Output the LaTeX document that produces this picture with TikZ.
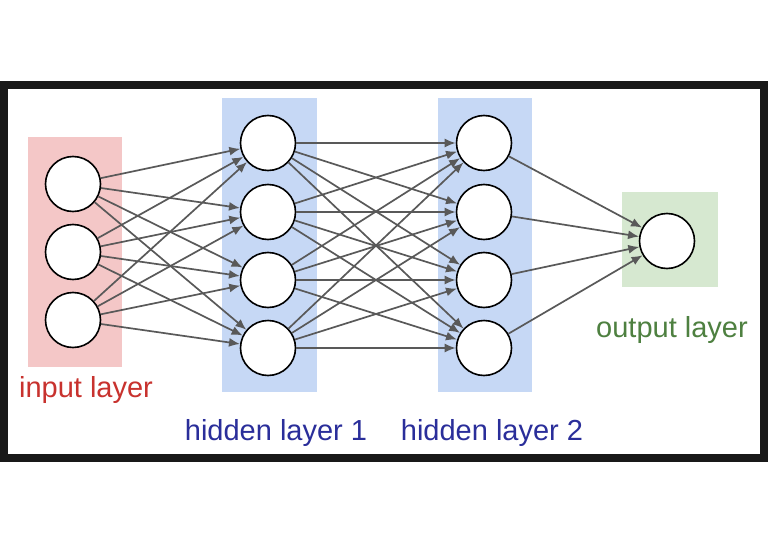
\documentclass[tikz,border=0pt]{standalone}
\usepackage{fontspec}
\setmainfont{Liberation Sans}
\usetikzlibrary{arrows.meta}
\definecolor{pinkbg}{HTML}{F4C7C7}
\definecolor{bluebg}{HTML}{C6D8F5}
\definecolor{greenbg}{HTML}{D6E8D0}
\definecolor{redtxt}{HTML}{C8322E}
\definecolor{bluetxt}{HTML}{2A2E9A}
\definecolor{greentxt}{HTML}{4E8040}
\begin{document}
\begin{tikzpicture}[x=1pt,y=-1pt,
  neuron/.style={circle,draw=black,line width=1.6pt,fill=white,minimum size=55pt,inner sep=0pt},
  conn/.style={draw=black!65,line width=1.7pt,-{Latex[length=11pt,width=9pt]}},
  lab/.style={font=\fontsize{29}{32}\selectfont}]
\useasboundingbox (0,0) rectangle (768,543);
\fill[white] (0,0) rectangle (768,543);
\fill[pinkbg] (28,137) rectangle (122,367);
\fill[bluebg] (222,98) rectangle (317,392);
\fill[bluebg] (438,98) rectangle (532,392);
\fill[greenbg] (622,192) rectangle (718,287);
\draw[line width=8pt,black!90] (4,85) rectangle (764,458);
\foreach \i/\y in {1/184,2/252,3/320} \node[neuron] (i\i) at (73,\y) {};
\foreach \i/\y in {1/143,2/212,3/280,4/348} {
  \node[neuron] (a\i) at (268,\y) {};
  \node[neuron] (b\i) at (484,\y) {};}
\node[neuron] (o) at (667,241) {};
\foreach \s in {1,2,3} \foreach \t in {1,2,3,4} \draw[conn] (i\s) -- (a\t);
\foreach \s in {1,2,3,4} \foreach \t in {1,2,3,4} \draw[conn] (a\s) -- (b\t);
\foreach \s in {1,2,3,4} \draw[conn] (b\s) -- (o);
\node[lab,text=redtxt] (t1) at (86,390) {input layer};
\node[lab,text=bluetxt] (t2) at (276,433) {hidden layer 1};
\node[lab,text=bluetxt] (t3) at (492,433) {hidden layer 2};
\node[lab,text=greentxt] (t4) at (672,330) {output layer};
\end{tikzpicture}
\end{document}
